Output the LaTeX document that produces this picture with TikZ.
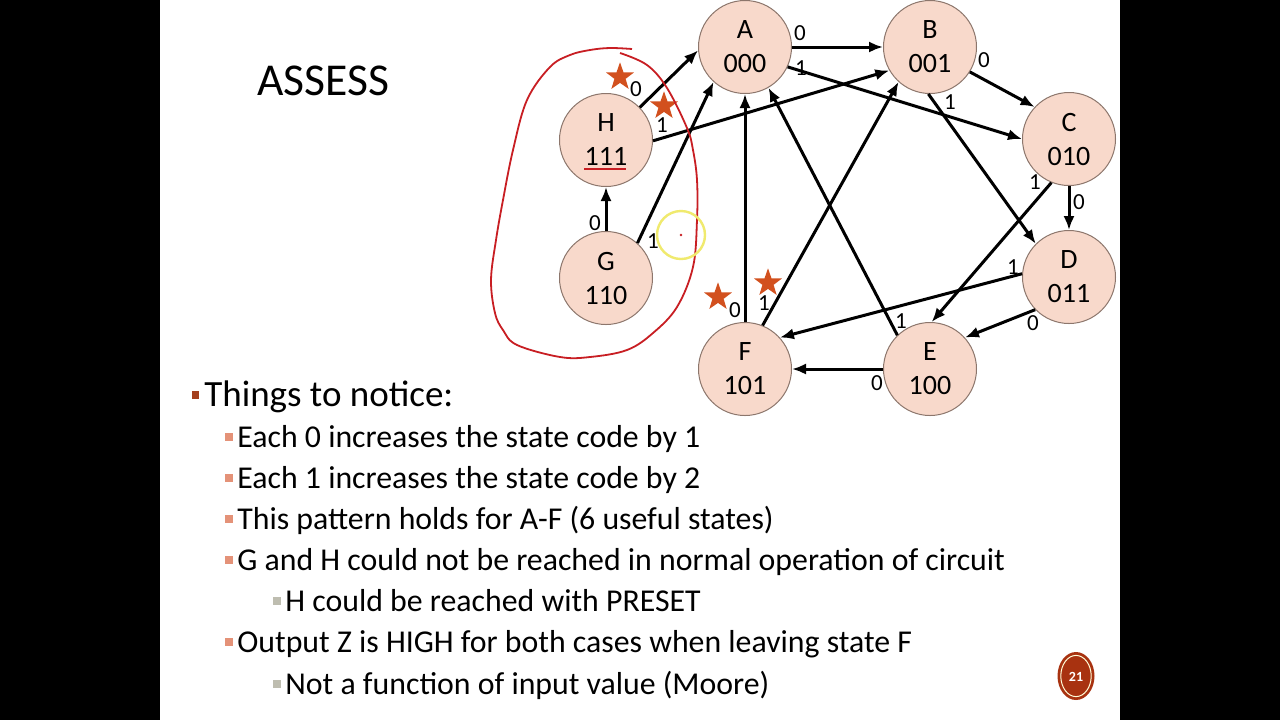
\documentclass[tikz,border=0pt]{standalone}
\usepackage{fontspec}
\setmainfont{Carlito}
\usetikzlibrary{arrows.meta,shapes.geometric}

\definecolor{statefill}{RGB}{248,217,203}
\definecolor{stateline}{RGB}{140,118,108}
\definecolor{starred}{RGB}{210,80,30}
\definecolor{loopred}{RGB}{200,30,35}
\definecolor{bulmain}{RGB}{164,64,30}
\definecolor{bulsub}{RGB}{228,146,120}
\definecolor{bulsubsub}{RGB}{190,189,176}
\definecolor{badge}{RGB}{168,50,16}
\definecolor{cursor}{RGB}{240,234,110}

\begin{document}
\begin{tikzpicture}[x=0.5pt,y=-0.5pt,
	state/.style={circle, draw=stateline, line width=0.5pt, fill=statefill, minimum size=46.5pt,
		inner sep=0pt, align=center, font=\fontsize{14}{17}\selectfont},
	arr/.style={line width=1.5pt, -{Latex[length=7pt,width=5.6pt]}},
	lbl/.style={inner sep=0pt, font=\fontsize{11.5}{13}\selectfont},
	starmk/.style={star, star points=5, star point ratio=2.5, fill=starred, inner sep=0pt, minimum size=14.7pt},
	main/.style={anchor=base west, inner sep=0pt, font=\fontsize{18.5}{22}\selectfont},
	sub/.style={anchor=base west, inner sep=0pt, font=\fontsize{15.9}{19}\selectfont}]
	\useasboundingbox (0,0) rectangle (1280,720);
	\fill[white] (0,0) rectangle (1280,720);
	\fill[black] (0,0) rectangle (160,720);
	\fill[black] (1120,0) rectangle (1280,720);

	\node[anchor=base west, inner sep=0pt, font=\fontsize{22.8}{27}\selectfont] (title) at (257,95) {ASSESS};

	% states
	\node[state] (A) at (745,47)  {A\\000};
	\node[state] (B) at (930,47)  {B\\001};
	\node[state] (C) at (1069,139) {C\\010};
	\node[state] (D) at (1069,277) {D\\011};
	\node[state] (E) at (930,369) {E\\100};
	\node[state] (F) at (745,369) {F\\101};
	\node[state] (G) at (606,278) {G\\110};
	\node[state] (H) at (606,140) {H\\111};
	\draw[loopred, line width=0.8pt] (584,169) -- (626,169);

	% transitions
	\draw[arr] (A.0) -- (B.180);     \node[lbl] (lAB) at (800,33) {0};
	\draw[arr] (A.-25) -- (C.180);   \node[lbl] (lAC) at (801,68) {1};
	\draw[arr] (B.-32) -- (C.137);   \node[lbl] (lBC) at (984,60) {0};
	\draw[arr] (B.-92) -- (D.135);   \node[lbl] (lBD) at (950,102) {1};
	\draw[arr] (C.-90) -- (D.90);    \node[lbl] (lCD) at (1079,202) {0};
	\draw[arr] (C.248) -- (E.88);    \node[lbl] (lCE) at (1035,182) {1};
	\draw[arr] (D.224) -- (E.42);    \node[lbl] (lDE) at (1033,323) {0};
	\draw[arr] (D.176) -- (F.42);    \node[lbl] (lDF) at (1013,267) {1};
	\draw[arr] (E.180) -- (F.0);     \node[lbl] (lEF) at (877,383) {0};
	\draw[arr] (E.134) -- (A.-60);   \node[lbl] (lEA) at (901,321) {1};
	\draw[arr] (F.90) -- (A.-90);    \node[lbl] (lFA) at (735,310) {0};
	\draw[arr] (F.68) -- (B.228);    \node[lbl] (lFB) at (764,303) {1};
	\draw[arr] (G.90) -- (H.-90);    \node[lbl] (lGH) at (595,223) {0};
	\draw[arr] (G.48) -- (A.228);    \node[lbl] (lGA) at (653,241) {1};
	\draw[arr] (H.44) -- (A.184);    \node[lbl] (lHA) at (636,89) {0};
	\draw[arr] (H.-1) -- (B.210);    \node[lbl] (lHB) at (662,125) {1};

	% stars on the exits of H and F
	\node[starmk] (sH0) at (620,77) {};
	\node[starmk] (sH1) at (664,106) {};
	\node[starmk] (sF0) at (718,297) {};
	\node[starmk] (sF1) at (768,283) {};

	% hand-drawn loop round G and H
	\draw[loopred, line width=0.9pt] plot[smooth, tension=0.6] coordinates {(632,49) (610,48) (590,50) (570,55)
		(550,67) (527,100) (513,150) (503,200) (496,240) (491,280) (495,313) (503,330) (517,345) (560,357)
		(590,357) (627,350) (653,333) (677,307) (693,267) (697,220) (697,180) (693,150) (687,128) (667,88)
		(647,65) (620,53)};
	\draw[cursor, line width=1.2pt] (681,235) circle (12pt);
	\fill[loopred] (681,235) circle (0.7pt);

	% text
	\fill[bulmain] (192,391) rectangle (199,399);
	\node[main] (t0) at (204,406) {Things to notice:};
	\fill[bulsub] (225,433) rectangle (233,441);
	\node[sub] (t1) at (237,447) {Each 0 increases the state code by 1};
	\fill[bulsub] (225,474) rectangle (233,482);
	\node[sub] (t2) at (237,488) {Each 1 increases the state code by 2};
	\fill[bulsub] (225,515) rectangle (233,523);
	\node[sub] (t3) at (237,529) {This pattern holds for A-F (6 useful states)};
	\fill[bulsub] (225,556) rectangle (233,564);
	\node[sub] (t4) at (237,570) {G and H could not be reached in normal operation of circuit};
	\fill[bulsubsub] (273,597) rectangle (281,605);
	\node[sub] (t5) at (285,611) {H could be reached with PRESET};
	\fill[bulsub] (225,638) rectangle (233,646);
	\node[sub] (t6) at (237,652) {Output Z is HIGH for both cases when leaving state F};
	\fill[bulsubsub] (273,680) rectangle (281,688);
	\node[sub] (t7) at (285,694) {Not a function of input value (Moore)};

	% slide number
	\fill[badge] (1076,676) ellipse (9.25pt and 12pt);
	\draw[white!85!yellow, line width=0.5pt] (1076,676) ellipse (7.6pt and 10.3pt);
	\node[text=white, font=\fontsize{7}{8}\selectfont\bfseries, inner sep=0pt] (pg) at (1076,677) {21};
\end{tikzpicture}
\end{document}
